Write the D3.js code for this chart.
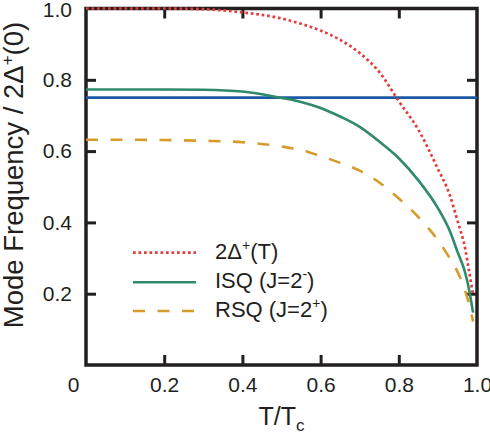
<!DOCTYPE html>
<html><head><meta charset="utf-8">
<script src="https://cdn.jsdelivr.net/npm/d3@7"></script>
<style>
html,body{margin:0;padding:0;background:#fff;}
svg{display:block;font-family:"Liberation Sans",Arial,Helvetica,sans-serif;}
</style></head>
<body><svg id="c" width="490" height="434"></svg>
<script>
// ---- data ----
const tValues = [0, 0.1, 0.2, 0.3, 0.4, 0.5, 0.55, 0.6, 0.65, 0.7, 0.75, 0.8, 0.85, 0.9, 0.93, 0.95, 0.97, 0.98, 0.99];
const gapValues = [1.0, 1.0, 1.0, 0.998, 0.989, 0.972, 0.957, 0.938, 0.912, 0.875, 0.822, 0.74, 0.66, 0.55, 0.478, 0.405, 0.325, 0.262, 0.195];
const isqValues = [0.773, 0.773, 0.773, 0.772, 0.767, 0.749, 0.738, 0.721, 0.697, 0.668, 0.627, 0.58, 0.518, 0.44, 0.377, 0.318, 0.258, 0.21, 0.147];
const rsqValues = [0.632, 0.632, 0.631, 0.629, 0.625, 0.613, 0.603, 0.586, 0.567, 0.545, 0.512, 0.467, 0.415, 0.35, 0.3, 0.262, 0.207, 0.17, 0.122];
const refLevel = 0.75;
const refT = [0, 1];
const xTicks = [0, 0.2, 0.4, 0.6, 0.8, 1.0];
const yTicks = [0.2, 0.4, 0.6, 0.8, 1.0];
const innerTicks = [0.2, 0.4, 0.6, 0.8];
const legendLabels = ["2Δ|+|(T)", "ISQ (J=2|-|)", "RSQ (J=2|+|)"];

// ---- layout ----
const W = 490, H = 434;
const m = {l: 86, r: 13, t: 8.5, b: 69};
const svg = d3.select("#c");
const x = d3.scaleLinear().domain([0, 1]).range([m.l, W - m.r]);
const y = d3.scaleLinear().domain([0, 1]).range([H - m.b, m.t]);
const ink = "#231f20";

// frame
svg.append("rect").attr("x", x(0)).attr("y", y(1)).attr("width", x(1) - x(0)).attr("height", y(0) - y(1))
  .attr("fill", "none").attr("stroke", ink).attr("stroke-width", 3.5);

// inward ticks on all sides
function ticks(axis, tr) {
  const g = svg.append("g").attr("transform", tr).call(axis);
  g.select(".domain").remove();
  g.selectAll(".tick line").attr("stroke", ink).attr("stroke-width", 3);
  g.selectAll("text").remove();
}
ticks(d3.axisBottom(x).tickValues(innerTicks).tickSize(-10), `translate(0,${y(0)})`);
ticks(d3.axisTop(x).tickValues(innerTicks).tickSize(-10), `translate(0,${y(1)})`);
ticks(d3.axisLeft(y).tickValues(innerTicks).tickSize(-10), `translate(${x(0)},0)`);
ticks(d3.axisRight(y).tickValues(innerTicks).tickSize(-10), `translate(${x(1)},0)`);

// tick labels
const gx = svg.append("g").attr("transform", `translate(0,${y(0)})`)
  .call(d3.axisBottom(x).tickValues(xTicks).tickSize(0).tickPadding(12)
    .tickFormat(d => d === 0 ? "0" : d3.format(".1f")(d)));
gx.select(".domain").remove();
gx.selectAll("text").attr("font-size", 21).attr("fill", ink).attr("font-family", "Liberation Sans, Arial, sans-serif")
  .attr("dx", d => d === 0 ? -13 : 0);
const gy = svg.append("g").attr("transform", `translate(${x(0)},0)`)
  .call(d3.axisLeft(y).tickValues(yTicks).tickSize(0).tickPadding(14).tickFormat(d3.format(".1f")));
gy.select(".domain").remove();
gy.selectAll("text").attr("font-size", 21).attr("fill", ink).attr("font-family", "Liberation Sans, Arial, sans-serif")
  .attr("dy", d => d === 1 ? "0.36em" : "0.32em");

// helper for rich text with superscripts marked with |..|
function rich(sel, str, supShift, supSize) {
  const parts = str.split("|");
  parts.forEach((p, i) => {
    if (!p) return;
    const ts = sel.append("tspan").text(p);
    if (i % 2 === 1) {
      ts.attr("font-size", supSize).attr("dy", -supShift);
    } else if (i > 0) {
      ts.attr("dy", supShift);
    }
  });
}

// axis titles
const xt = svg.append("text").attr("x", (x(0) + x(1)) / 2).attr("y", 425).attr("text-anchor", "middle")
  .attr("font-size", 25).attr("fill", ink);
xt.append("tspan").text("T/T");
xt.append("tspan").text("c").attr("font-size", 17).attr("dy", 6);

const yt = svg.append("text").attr("transform", `translate(23,175) rotate(-90)`)
  .attr("text-anchor", "middle").attr("font-size", 27.5).attr("fill", ink);
rich(yt, "Mode Frequency / 2Δ|+|(0)", 10, 17);

// curves
const line = d3.line().x(d => x(d[0])).y(d => y(d[1])).curve(d3.curveMonotoneX);
const series = [
  {vals: rsqValues, color: "#d79b2c", dash: "12,12.5", w: 2.6},
  {vals: isqValues, color: "#2e8a68", dash: null, w: 2.6},
  {vals: gapValues, color: "#e23c3b", dash: "2.7,2.8", w: 2.7}
];
svg.append("path").datum(refT.map(t => [t, refLevel])).attr("d", line)
  .attr("fill", "none").attr("stroke", "#1d58a6").attr("stroke-width", 2.6);
series.forEach(s => {
  svg.append("path").datum(tValues.map((t, i) => [t, s.vals[i]])).attr("d", line)
    .attr("fill", "none").attr("stroke", s.color).attr("stroke-width", s.w)
    .attr("stroke-dasharray", s.dash);
});

// legend
const legSeries = [series[2], series[1], series[0]];
const legY = [252.7, 282.3, 311];
legSeries.forEach((s, i) => {
  svg.append("line").attr("x1", 133).attr("x2", 196).attr("y1", legY[i]).attr("y2", legY[i])
    .attr("stroke", s.color).attr("stroke-width", s.w).attr("stroke-dasharray", s.dash);
  const t = svg.append("text").attr("x", 215).attr("y", legY[i] + 6).attr("font-size", 22).attr("fill", ink);
  rich(t, legendLabels[i], 9, 14);
});
</script></body></html>
